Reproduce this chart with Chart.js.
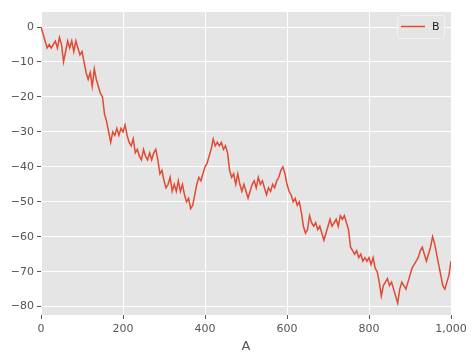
<!DOCTYPE html>
<html>
<head>
<meta charset="utf-8">
<script src="https://cdn.jsdelivr.net/npm/chart.js@4/dist/chart.umd.min.js"></script>
<style>
  html, body { margin: 0; padding: 0; background: #fff; }
  #wrap { width: 474px; height: 363px; }
</style>
</head>
<body>
<div id="wrap"><canvas id="walkChart" width="474" height="363"></canvas></div>
<script>
// Valores (serie B contra A)
const seriesName = 'B';
const xTitle = 'A';
const xs = [];
for (let i = 0; i <= 1000; i += 5) xs.push(i);
const ys = [
  0, -2, -4, -6, -5, -6, -5, -4, -6, -3,
  -5, -10, -7, -4, -6, -4, -7, -4, -6, -8,
  -7, -10, -13, -15, -13, -17, -12, -15, -17, -19,
  -20, -25, -27, -30, -33, -30, -31, -29, -31, -29,
  -30, -28, -31, -33, -34, -32, -36, -35, -37, -38,
  -35, -37, -38, -36, -38, -36, -35, -38, -42, -41,
  -44, -46, -45, -43, -47, -45, -47, -44, -47, -45,
  -48, -50, -49, -52, -51, -48, -45, -43, -44, -42,
  -40, -39, -37, -35, -32, -34, -33, -34, -33, -35,
  -34, -36, -41, -43, -42, -45, -42, -45, -47, -45,
  -47, -49, -47, -45, -44, -46, -43, -45, -44, -46,
  -48, -46, -47, -45, -46, -44, -43, -41, -40, -42,
  -45, -47, -48, -50, -49, -51, -50, -53, -57, -59,
  -58, -54, -56, -57, -56, -58, -57, -59, -61, -59,
  -57, -55, -57, -56, -55, -57, -54, -55, -54, -56,
  -58, -63, -64, -65, -64, -66, -65, -67, -66, -67,
  -66, -68, -66, -69, -70, -73, -77, -74, -73, -72,
  -74, -73, -75, -77, -79, -75, -73, -74, -75, -73,
  -71, -69, -68, -67, -66, -64, -63, -65, -67, -65,
  -63, -60, -62, -65, -68, -71, -74, -75, -73, -71,
  -67
];
const xTicks = [0, 200, 400, 600, 800, 1000];
const yTicks = [-80, -70, -60, -50, -40, -30, -20, -10, 0];

const puntos = xs.map((x, i) => ({ x: x, y: ys[i] }));

// Fondo gris del área de la gráfica y leyenda estilo ggplot
const estiloGgplot = {
  id: 'estiloGgplot',
  beforeDraw(chart) {
    const a = chart.chartArea;
    const c = chart.ctx;
    c.save();
    c.fillStyle = '#E5E5E5';
    c.fillRect(a.left, a.top, a.right - a.left, a.bottom - a.top);
    c.restore();
  },
  afterDraw(chart) {
    const c = chart.ctx;
    c.save();
    const bx = 397, by = 15, bw = 47, bh = 23;
    c.fillStyle = 'rgba(229,229,229,0.8)';
    c.strokeStyle = '#f2f2f2';
    c.lineWidth = 1;
    c.beginPath();
    c.roundRect(bx + 0.5, by + 0.5, bw, bh, 3);
    c.fill();
    c.stroke();
    c.strokeStyle = '#E24A33';
    c.lineWidth = 1.5;
    c.beginPath();
    c.moveTo(401, 26.5);
    c.lineTo(425, 26.5);
    c.stroke();
    c.fillStyle = '#222';
    c.font = '11px "DejaVu Sans"';
    c.textBaseline = 'middle';
    c.fillText(seriesName, 432, 27);
    c.restore();
  }
};

const ctx = document.getElementById('walkChart').getContext('2d');
const walkChart = new Chart(ctx, {
  type: 'line',
  data: {
    datasets: [{
      label: seriesName,
      data: puntos,
      borderColor: '#E24A33',
      borderWidth: 1.5,
      pointRadius: 0,
      tension: 0,
      fill: false
    }]
  },
  options: {
    responsive: false,
    animation: false,
    layout: { padding: { top: 12, right: 23, bottom: 9, left: 0 } },
    plugins: { legend: { display: false }, tooltip: { enabled: false } },
    scales: {
      x: {
        type: 'linear',
        min: 0,
        max: 1000,
        afterFit: s => { s.height = 39; },
        afterBuildTicks: s => { s.ticks = xTicks.map(v => ({ value: v })); },
        grid: { color: '#ffffff', lineWidth: 1, tickColor: '#555555', tickLength: 4, z: 0 },
        border: { display: false },
        ticks: { color: '#555555', font: { family: 'DejaVu Sans', size: 11 }, padding: 4, maxRotation: 0 },
        title: { display: true, text: xTitle, color: '#555555', font: { family: 'DejaVu Sans', size: 13 }, padding: { top: 2, bottom: 0 } }
      },
      y: {
        min: -82.4,
        max: 4.3,
        afterFit: s => { s.width = 41; },
        afterBuildTicks: s => { s.ticks = yTicks.map(v => ({ value: v })); },
        grid: { color: '#ffffff', lineWidth: 1, tickColor: '#555555', tickLength: 4, z: 0 },
        border: { display: false },
        ticks: {
          color: '#555555',
          font: { family: 'DejaVu Sans', size: 11 },
          padding: 3,
          callback: v => String(v).replace('-', '\u2212')
        }
      }
    }
  },
  plugins: [estiloGgplot]
});
</script>
</body>
</html>
